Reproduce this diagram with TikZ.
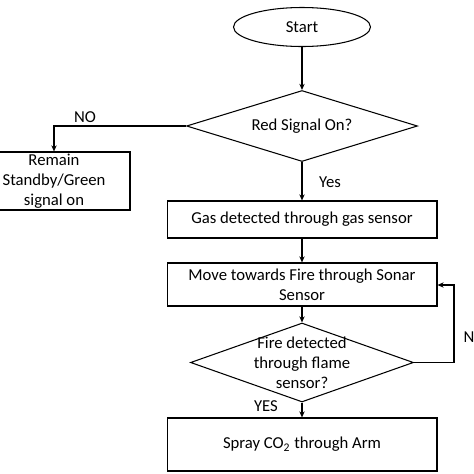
\documentclass[tikz,border=0pt]{standalone}
\usepackage{fontspec}
\setmainfont{Carlito}
\usepackage{tikz}
\usetikzlibrary{arrows.meta,shapes.geometric}

\begin{document}
\begin{tikzpicture}[x=0.02cm,y=-0.02cm,
		line width=0.6pt,
		font=\fontsize{9.5}{11.4}\selectfont]
		\useasboundingbox (0,0) rectangle (474,474);
		
		\begin{scope}[every node/.style={draw,inner sep=0pt}]
			\node[ellipse,minimum width=2.74cm,minimum height=0.78cm] (start) at (302,27) {Start};
			\node[diamond,minimum width=4.62cm,minimum height=1.42cm] (redq) at (302,126) {};
			\node[rectangle,minimum width=3.04cm,minimum height=1.16cm] (remain) at (54,181) {};
			\node[rectangle,minimum width=5.4cm,minimum height=0.74cm] (gas) at (302,219.5) {Gas detected through gas sensor};
			\node[rectangle,minimum width=5.4cm,minimum height=0.86cm] (move) at (302,284.5) {};
			\node[diamond,minimum width=4.46cm,minimum height=1.58cm] (fireq) at (302,362.5) {};
			\node[rectangle,minimum width=5.4cm,minimum height=1.06cm] (spray) at (302,444.5) {Spray CO\textsubscript{2} through Arm};
		\end{scope}
		
		% texts of the decisions and of the two-line boxes
		\begin{scope}[every node/.style={align=center,inner sep=0pt}]
			\node (redtxt) at (redq) {Red Signal On?};
			\node (remaintxt) at (remain.center) {Remain\\Standby/Green\\signal on};
			\node (movetxt) at (move) {Move towards Fire through Sonar\\Sensor};
			\node (firetxt) at (fireq) {Fire detected\\through flame\\sensor?};
			\node (nolft) at (85,117) {NO};
			\node (yes) at (330,182) {Yes};
			\node (yesb) at (266,406) {YES};
			\node[anchor=west] (norgt) at (463,337) {NO};
		\end{scope}
		
		\begin{scope}[>={Stealth[length=3.5pt,width=3pt]}]
			\coordinate (loop) at (454,285);
			\path [->] (start) edge (redq);
			\draw [->] (redq.west) -| (remain.north);
			\path [->] (redq) edge (gas);
			\path [->] (gas) edge (move);
			\path [->] (move) edge (fireq);
			\draw [->] (fireq.east) -| (loop) -- (move.east |- loop);
			\path [->] (fireq) edge (spray);
		\end{scope}
	\end{tikzpicture}
\end{document}
